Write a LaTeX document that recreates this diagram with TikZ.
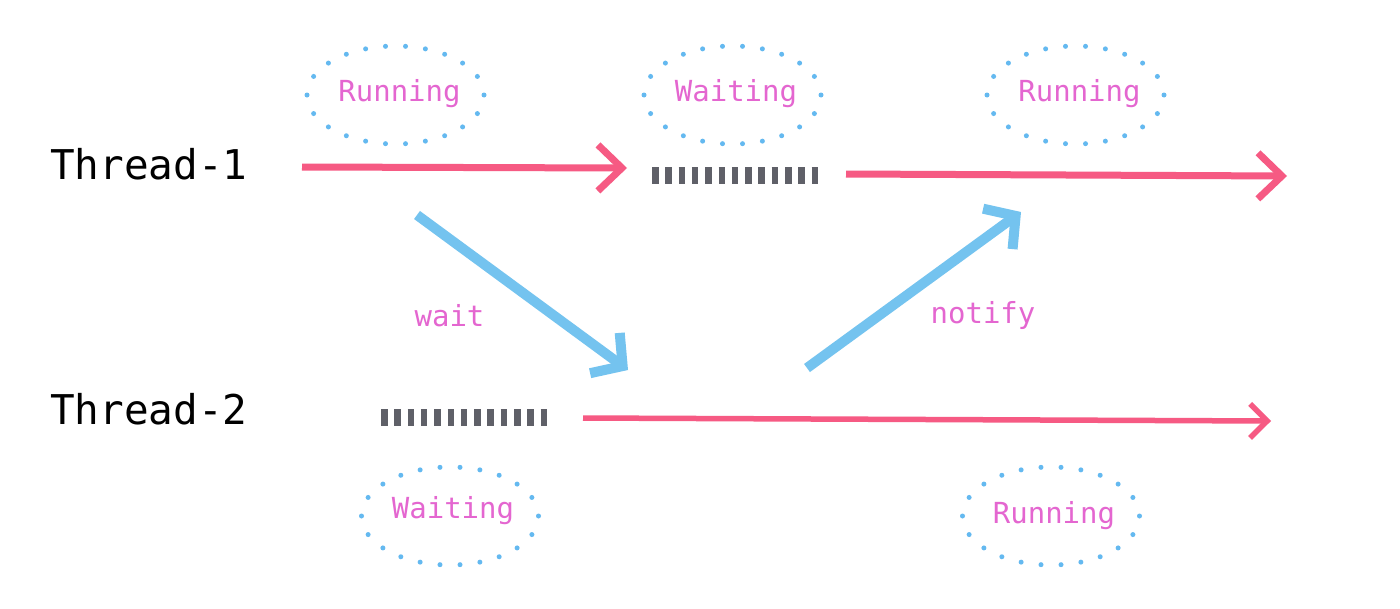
\documentclass[tikz,border=0pt]{standalone}
\usepackage{fontspec}
\setmonofont{DejaVu Sans Mono}
\usetikzlibrary{arrows.meta,shapes.geometric}
\definecolor{dotblue}{RGB}{100,185,240}
\definecolor{txtpink}{RGB}{228,102,208}
\definecolor{arrpink}{RGB}{246,90,131}
\definecolor{arrblue}{RGB}{116,195,239}
\definecolor{bargray}{RGB}{95,96,104}
\begin{document}
\begin{tikzpicture}[x=1pt,y=-1pt,
  thread/.style={font=\ttfamily\fontsize{41}{41}\selectfont, text=black, anchor=base west, inner sep=0pt},
  state/.style={font=\ttfamily\fontsize{29}{29}\selectfont, text=txtpink, anchor=base, inner sep=0pt},
  bubble/.style={ellipse, draw=dotblue, line width=5pt, dash pattern=on 0pt off 20.04pt, line cap=round, minimum width=177pt, minimum height=98pt, inner sep=0pt},
  waitbar/.style={draw=bargray, line width=17pt, dash pattern=on 6.5pt off 6.8pt},
  runline/.style={draw=arrpink, line width=7pt, -{Straight Barb[length=24pt,width=46pt]}},
  runthin/.style={draw=arrpink, line width=5.5pt, -{Straight Barb[length=17pt,width=34pt]}},
  signal/.style={draw=arrblue, line width=10pt, -{Straight Barb[length=22pt,width=50pt]}}
]
\useasboundingbox[fill=white] (0,0) rectangle (1400,608);

% thread labels
\node[thread] (th1) at (50,179) {Thread-1};
\node[thread] (th2) at (50,424) {Thread-2};

% state bubbles
\node[bubble] (e1) at (395.5,95) {};
\node[bubble] (e2) at (732.5,95) {};
\node[bubble] (e3) at (1075.5,95) {};
\node[bubble] (e4) at (450,516) {};
\node[bubble] (e5) at (1051,516) {};

\node[state] (s1) at (399.5,101.7) {Running};
\node[state] (s2) at (736,101.7) {Waiting};
\node[state] (s3) at (1079.5,101.5) {Running};
\node[state] (s4) at (453,518) {Waiting};
\node[state] (s5) at (1054,523) {Running};

% coordinates
\coordinate (t1a) at (302,167);
\coordinate (t1b) at (627,168);
\coordinate (b1a) at (652,175.5);
\coordinate (b1b) at (818,175.5);
\coordinate (t1c) at (846,174);
\coordinate (t1d) at (1287,176);
\coordinate (b2a) at (381,417);
\coordinate (b2b) at (547,417);
\coordinate (t2a) at (583,418);
\coordinate (t2b) at (1271,421);
\coordinate (w1) at (417,215);
\coordinate (w2) at (628,370);
\coordinate (n1) at (807,368);
\coordinate (n2) at (1021,212);

% thread timelines
\draw[runline] (t1a) -- (t1b);
\draw[waitbar] (b1a) -- (b1b);
\draw[runline] (t1c) -- (t1d);
\draw[waitbar] (b2a) -- (b2b);
\draw[runthin] (t2a) -- (t2b);

% signals
\draw[signal] (w1) -- (w2);
\draw[signal] (n1) -- (n2);

\node[state] (lw) at (449.5,326.7) {wait};
\node[state] (ln) at (983,323) {notify};
\end{tikzpicture}
\end{document}
